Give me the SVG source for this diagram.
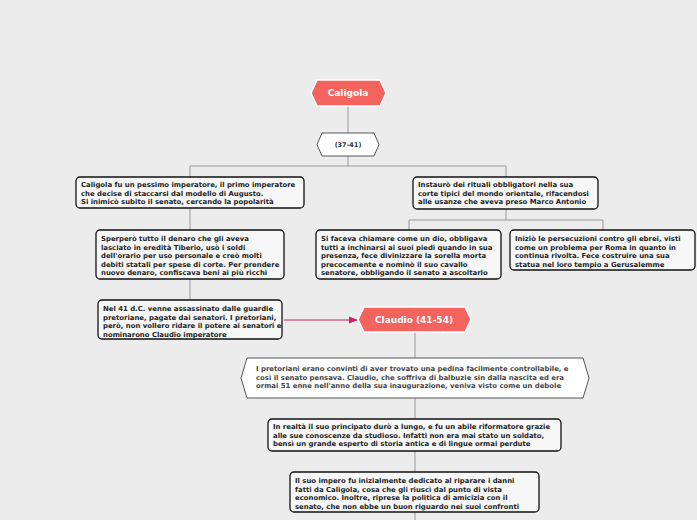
<svg xmlns="http://www.w3.org/2000/svg" width="697" height="520" viewBox="0 0 697 520">
<style>
text{font-family:"DejaVu Sans",Verdana,sans-serif;font-weight:bold;font-size:6.9px;fill:#222}
.b{fill:#f7f7f7;stroke:#111;stroke-width:1.3}
.t{fill:#f4645f;stroke:#fff;stroke-width:1.5}
.w{fill:#fff;stroke:#555;stroke-width:1}
.l{stroke:#999;stroke-width:1;fill:none}
.lt{fill:#fff;font-size:9px}
.c{text-anchor:middle}
</style>
<defs><marker id="a" markerWidth="8" markerHeight="6" refX="7" refY="3" orient="auto"><path d="M0,0L8,3L0,6z" fill="#d0245e"/></marker></defs>
<rect width="697" height="520" fill="#ececec"/>
<g id="connectors">
<path class="l" d="M348,106V133M348,156V166M190,166H506M190,166V177M190,208V230M190,279V300M506,166V177M506,209V220M409,220H603M409,220V230M603,220V230M415,332V520" stroke="#888"/>
<path d="M284,320H357" stroke="#d0245e" stroke-width="1.2" marker-end="url(#a)"/>
</g>
<g id="caligola"><polygon class="t" points="317,80 380,80 386,93 380,106 317,106 311,93"/><text class="lt c" x="348" y="96">Caligola</text></g>
<g id="date"><polygon class="w" points="322,133 374,133 379,144.5 374,156 322,156 317,144.5"/><text class="c" x="348" y="147" style="font-size:6.5px;fill:#333">(37-41)</text></g>
<g id="n1"><rect class="b" x="76" y="177" width="228" height="31" rx="4"/><text x="81" y="187">Caligola fu un pessimo imperatore, il primo imperatore<tspan x="81" dy="8.5">che decise di staccarsi dal modello di Augusto.</tspan><tspan x="81" dy="8.5">Si inimicò subito il senato, cercando la popolarità</tspan></text></g>
<g id="n2"><rect class="b" x="96" y="230" width="188" height="49" rx="4"/><text x="101" y="241">Sperperò tutto il denaro che gli aveva<tspan x="101" dy="8.5">lasciato in eredità Tiberio, usò i soldi</tspan><tspan x="101" dy="8.5">dell'orario per uso personale e creò molti</tspan><tspan x="101" dy="8.5">debiti statali per spese di corte. Per prendere</tspan><tspan x="101" dy="8.5">nuovo denaro, confiscava beni ai più ricchi</tspan></text></g>
<g id="n3"><rect class="b" x="98" y="300" width="184" height="39" rx="4"/><text x="103" y="311">Nel 41 d.C. venne assassinato dalle guardie<tspan x="103" dy="8.5">pretoriane, pagate dai senatori. I pretoriani,</tspan><tspan x="103" dy="8.5">però, non vollero ridare il potere ai senatori e</tspan><tspan x="103" dy="8.5">nominarono Claudio imperatore</tspan></text></g>
<g id="n4"><rect class="b" x="413" y="177" width="185" height="32" rx="4"/><text x="418" y="187">Instaurò dei rituali obbligatori nella sua<tspan x="418" dy="8.5">corte tipici del mondo orientale, rifacendosi</tspan><tspan x="418" dy="8.5">alle usanze che aveva preso Marco Antonio</tspan></text></g>
<g id="n5"><rect class="b" x="316" y="230" width="185" height="49" rx="4"/><text x="321" y="241">Si faceva chiamare come un dio, obbligava<tspan x="321" dy="8.5">tutti a inchinarsi ai suoi piedi quando in sua</tspan><tspan x="321" dy="8.5">presenza, fece divinizzare la sorella morta</tspan><tspan x="321" dy="8.5">precocemente e nominò il suo cavallo</tspan><tspan x="321" dy="8.5">senatore, obbligando il senato a ascoltarlo</tspan></text></g>
<g id="n6"><rect class="b" x="510" y="230" width="185" height="40" rx="4"/><text x="515" y="241">Iniziò le persecuzioni contro gli ebrei, visti<tspan x="515" dy="8.5">come un problema per Roma in quanto in</tspan><tspan x="515" dy="8.5">continua rivolta. Fece costruire una sua</tspan><tspan x="515" dy="8.5">statua nel loro tempio a Gerusalemme</tspan></text></g>
<g id="claudio"><polygon class="t" points="364,307 465,307 471,319.5 465,332 364,332 358,319.5"/><text class="lt c" x="414" y="323">Claudio (41-54)</text></g>
<g id="n7"><polygon class="w" points="247,358 583,358 589,378 583,398 247,398 241,378"/><text x="256" y="371" style="fill:#444">I pretoriani erano convinti di aver trovato una pedina facilmente controllabile, e<tspan x="256" dy="8.5">così il senato pensava. Claudio, che soffriva di balbuzie sin dalla nascita ed era</tspan><tspan x="256" dy="8.5">ormai 51 enne nell'anno della sua inaugurazione, veniva visto come un debole</tspan></text></g>
<g id="n8"><rect class="b" x="268" y="419" width="293" height="32" rx="4"/><text x="273" y="429">In realtà il suo principato durò a lungo, e fu un abile riformatore grazie<tspan x="273" dy="8.5">alle sue conoscenze da studioso. Infatti non era mai stato un soldato,</tspan><tspan x="273" dy="8.5">bensì un grande esperto di storia antica e di lingue ormai perdute</tspan></text></g>
<g id="n9"><rect class="b" x="290" y="472" width="249" height="40" rx="4"/><text x="295" y="483">Il suo impero fu inizialmente dedicato al riparare i danni<tspan x="295" dy="8.5">fatti da Caligola, cosa che gli riuscì dal punto di vista</tspan><tspan x="295" dy="8.5">economico. Inoltre, riprese la politica di amicizia con il</tspan><tspan x="295" dy="8.5">senato, che non ebbe un buon riguardo nei suoi confronti</tspan></text></g>
</svg>
